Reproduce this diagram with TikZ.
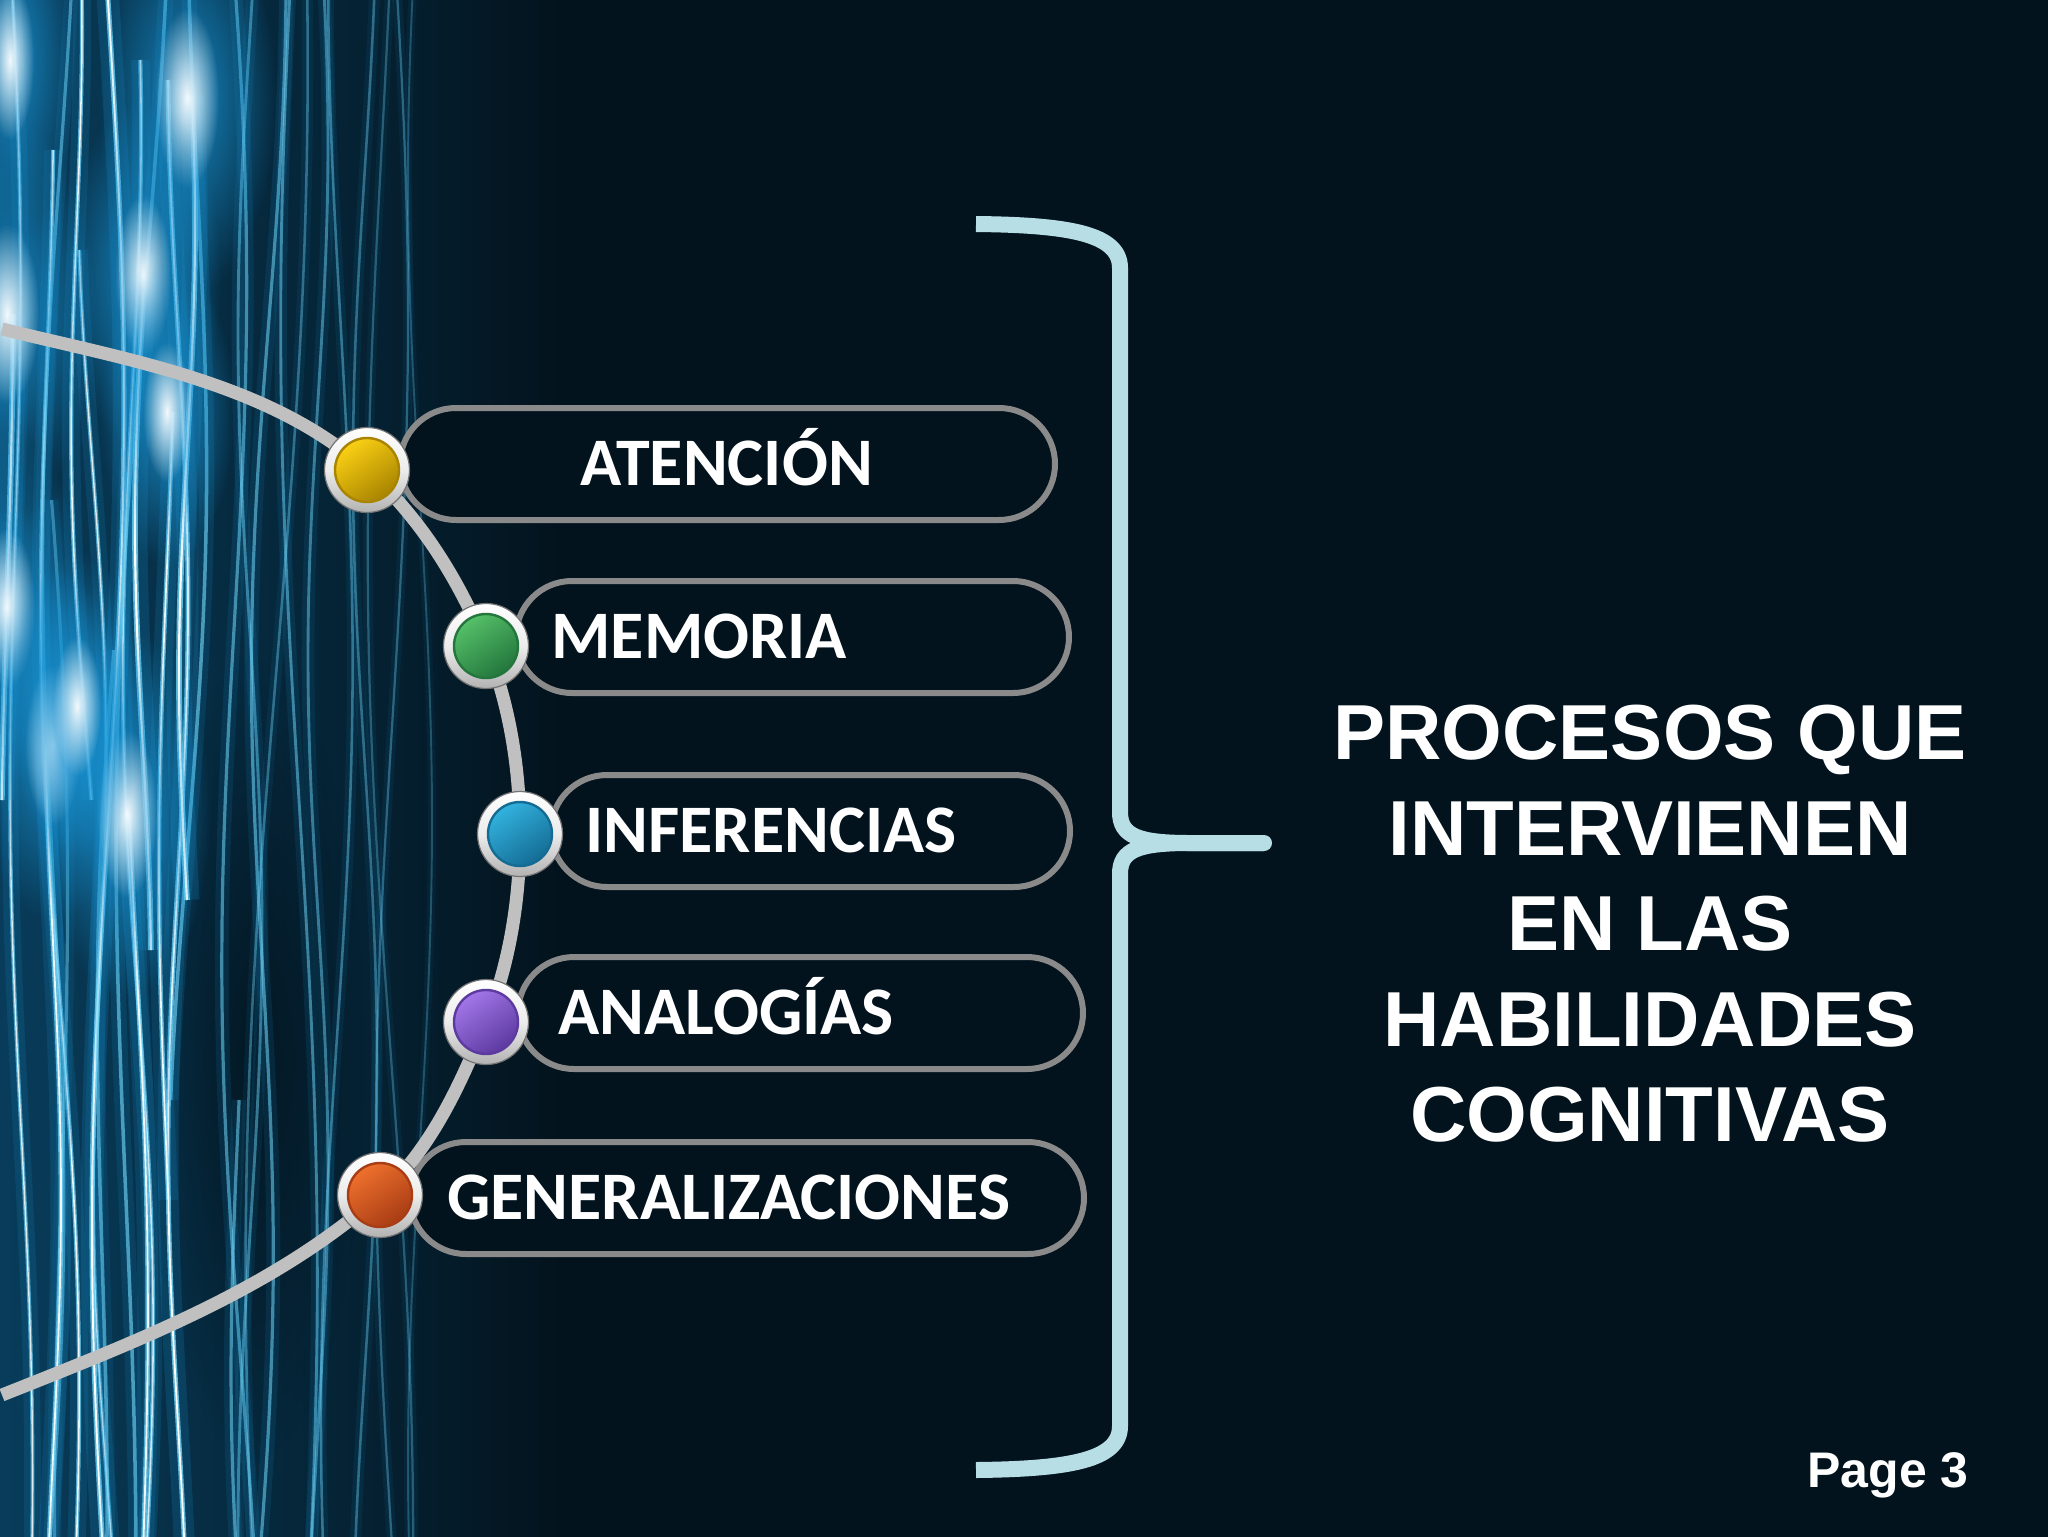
\documentclass[tikz,border=0pt]{standalone}
\usepackage{fontspec}
\setmainfont{Carlito}
\newfontfamily\arialfont{Liberation Sans}
\usetikzlibrary{fadings}
\definecolor{bg}{RGB}{3,19,29}
\definecolor{bgleft}{RGB}{10,72,108}
\definecolor{streakcore}{RGB}{110,210,245}
\definecolor{streakglow}{RGB}{25,150,215}
\definecolor{bracecol}{RGB}{183,222,229}
\definecolor{pillcol}{RGB}{138,138,138}
\definecolor{arccol}{RGB}{192,192,192}
\definecolor{ringedge}{RGB}{115,115,115}
\definecolor{yellowA}{RGB}{250,208,20}\definecolor{yellowB}{RGB}{168,132,0}
\definecolor{greenA}{RGB}{85,192,105}\definecolor{greenB}{RGB}{35,118,60}
\definecolor{blueA}{RGB}{50,178,222}\definecolor{blueB}{RGB}{20,108,148}
\definecolor{purpleA}{RGB}{162,118,232}\definecolor{purpleB}{RGB}{92,58,160}
\definecolor{orangeA}{RGB}{238,112,45}\definecolor{orangeB}{RGB}{168,60,20}
\tikzfading[name=glowfade, inner color=transparent!0, outer color=transparent!100]
\tikzset{
  pill/.style={draw=pillcol, line width=3pt, fill=bg, rounded corners=28pt, inner sep=0pt, minimum height=56pt},
  ring/.style={circle, inner sep=0pt, minimum size=42.5pt, draw=ringedge, line width=0.6pt, top color=white, bottom color=gray!60, middle color=gray!15},
  dot/.style 2 args={circle, inner sep=0pt, minimum size=32pt, draw=#2, line width=1.2pt, top color=#1, bottom color=#2, shading angle=35},
  lbl/.style={text=white, anchor=base west, inner sep=0pt, font=\fontsize{34pt}{34pt}\selectfont\bfseries},
  arcline/.style={draw=arccol, line width=6.5pt},
  braceline/.style={draw=bracecol, line width=8pt},
}
\begin{document}
\begin{tikzpicture}[x=0.5pt, y=-0.5pt]
\useasboundingbox (0,0) rectangle (2048,1536);
% background
\fill[bg] (-20,-20) rectangle (2070,1560);
\shade[left color=bgleft, right color=bg] (-160,-20) rectangle (560,1560);
\fill[bg, path fading=glowfade, opacity=0.8] (255,1060) ellipse (55pt and 200pt);
\fill[bg, path fading=glowfade, opacity=0.5] (20,450) ellipse (30pt and 80pt);
% light streaks
\foreach \xo/\sl/\am/\fr/\ph/\ys/\ye/\w/\op/\br in {
  10/0.01/8/0.3/20/-20/1556/1.2/0.8/1,
  40/0.02/12/0.28/80/150/1556/1.3/0.9/1,
  62/-0.01/14/0.25/140/-20/1556/1.0/0.7/0,
  85/0.015/10/0.35/200/250/1556/1.2/0.8/1,
  108/0/16/0.22/0/-20/1556/1.6/1/1,
  128/0.01/12/0.3/60/60/1556/1.3/0.9/1,
  150/-0.02/18/0.2/120/-20/1556/1.1/0.8/0,
  178/0/10/0.33/250/80/1556/1.5/1/1,
  200/-0.015/14/0.27/310/-20/1100/1.1/0.8/0,
  228/0.01/16/0.24/30/-20/1556/1.0/0.7/0,
  250/0/12/0.3/170/-20/1556/0.9/0.6/0,
  272/-0.01/14/0.28/90/-20/1556/1.0/0.7/0,
  295/0.005/16/0.2/200/-20/1556/0.9/0.65/0,
  318/0/10/0.35/40/-20/1556/0.9/0.6/0,
  342/-0.005/14/0.25/280/-20/1556/0.8/0.55/0,
  365/0/12/0.3/130/-20/1556/0.8/0.5/0,
  392/0/16/0.22/20/-20/1556/0.7/0.45/0,
  420/0/12/0.28/220/-20/1556/0.6/0.35/0,
  25/0.03/18/0.2/300/500/1556/1.0/0.6/0,
  140/-0.03/14/0.25/45/650/1556/1.1/0.7/0,
  72/0.02/10/0.35/100/-20/800/1.3/0.9/1,
  187/0/8/0.4/0/95/900/1.8/1/1,
  143/0/8/0.4/60/275/950/1.8/1/1,
  7/0/6/0.3/0/314/800/1.8/1/1,
  53/0/8/0.35/30/745/1556/1.5/0.9/1,
  127/0.01/8/0.3/70/814/1556/1.5/0.9/1,
  167/0/8/0.3/10/412/1200/1.4/0.9/1,
  290/-0.02/20/0.18/60/-20/1556/0.8/0.5/0,
  380/0.01/18/0.2/150/-20/1556/0.7/0.4/0,
  215/0.02/12/0.3/200/1100/1556/1.0/0.7/0}{
  \pgfmathsetmacro\gop{\op*0.18}
  \pgfmathsetmacro\mop{\op*0.8}
  \draw[streakglow, line width=\w*7pt, opacity=\gop] plot[domain=\ys:\ye, samples=36, smooth, variable=\t] ({\xo+\sl*\t+\am*sin(\fr*\t+\ph)}, {\t});
  \draw[streakcore, line width=\w*1.6pt, opacity=\mop] plot[domain=\ys:\ye, samples=36, smooth, variable=\t] ({\xo+\sl*\t+\am*sin(\fr*\t+\ph)}, {\t});
  \ifnum\br=1
  \draw[white, line width=\w*0.6pt, opacity=\op] plot[domain=\ys:\ye, samples=36, smooth, variable=\t] ({\xo+\sl*\t+\am*sin(\fr*\t+\ph)}, {\t});
  \fi
}
\foreach \gx/\gy/\ga/\gb in {187/98/16/45, 143/275/14/40, 7/314/16/45, 7/608/14/40, 53/745/14/40, 127/814/15/42, 77/706/12/35, 167/412/12/35, 10/60/12/40}{
  \fill[streakglow, path fading=glowfade, opacity=0.85] (\gx,\gy) ellipse ({\ga*2.8pt} and {\gb*2.2pt});
  \fill[white, path fading=glowfade, opacity=0.95] (\gx,\gy) ellipse ({\ga*1pt} and {\gb*1pt});
}
% pills
\node[pill, minimum width=327.5pt] (p1) at (727.5,464) {};
\node[pill, minimum width=276.5pt] (p2) at (792.5,637) {};
\node[pill, minimum width=259.5pt] (p3) at (810.5,831) {};
\node[pill, minimum width=282.5pt] (p4) at (800.5,1013) {};
\node[pill, minimum width=337pt] (p5) at (747,1198) {};
% arc
\coordinate (a0) at (2,329);
\coordinate (k1) at (367,470);
\coordinate (k2) at (486,646);
\coordinate (k3) at (520,834);
\coordinate (k4) at (486,1022);
\coordinate (k5) at (380,1195);
\coordinate (a1) at (2,1395);
\draw[arcline] (a0) .. controls (128,360) and (270,383) .. (k1)
  .. controls (420,517) and (459,580) .. (k2)
  .. controls (510,705) and (520,770) .. (k3)
  .. controls (520,898) and (510,963) .. (k4)
  .. controls (460,1085) and (431,1150) .. (k5)
  .. controls (273,1290) and (135,1342) .. (a1);
% circles
\node[ring] (c1) at (k1) {}; \node[dot={yellowA}{yellowB}] (d1) at (k1) {};
\node[ring] (c2) at (k2) {}; \node[dot={greenA}{greenB}] (d2) at (k2) {};
\node[ring] (c3) at (k3) {}; \node[dot={blueA}{blueB}] (d3) at (k3) {};
\node[ring] (c4) at (k4) {}; \node[dot={purpleA}{purpleB}] (d4) at (k4) {};
\node[ring] (c5) at (k5) {}; \node[dot={orangeA}{orangeB}] (d5) at (k5) {};
% labels
\node[lbl] (l1) at (580,485) {ATENCIÓN};
\node[lbl] (l2) at (551,658) {MEMORIA};
\node[lbl] (l3) at (585,852) {INFERENCIAS};
\node[lbl] (l4) at (558,1034) {ANALOGÍAS};
\node[lbl] (l5) at (447,1219) {GENERALIZACIONES};
% brace
\draw[braceline] (976,224) .. controls (1070,225) and (1120,234) .. (1120,268) -- (1120,812) .. controls (1120,836) and (1138,843) .. (1190,843) -- (1264,843);
\draw[braceline] (976,1470) .. controls (1070,1469) and (1120,1460) .. (1120,1426) -- (1120,874) .. controls (1120,850) and (1138,843) .. (1190,843) -- (1264,843);
\fill[bracecol] (1264,843) circle (4pt);
% title
\node[text=white, align=center, inner sep=0pt, font=\arialfont\bfseries\fontsize{39pt}{47.75pt}\selectfont] (title) at (1650,924) {PROCESOS QUE\\INTERVIENEN\\EN LAS\\HABILIDADES\\COGNITIVAS};
\node[text=white, anchor=base west, inner sep=0pt, font=\arialfont\bfseries\fontsize{25pt}{25pt}\selectfont] (pg) at (1807,1487) {Page 3};
\end{tikzpicture}
\end{document}
